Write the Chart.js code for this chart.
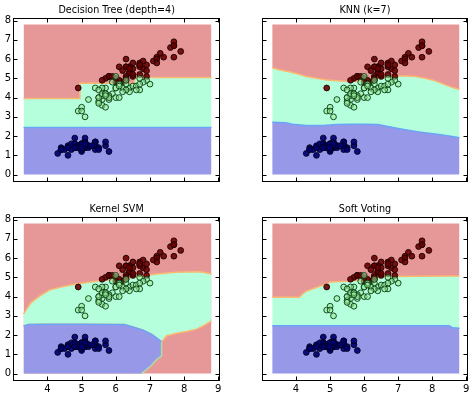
<!DOCTYPE html>
<html>
<head>
<meta charset="utf-8">
<script src="https://cdn.jsdelivr.net/npm/chart.js@4.4.1/dist/chart.umd.min.js"></script>
<style>
  body { margin: 0; background: #fff; width: 474px; height: 398px; overflow: hidden; position: relative; }
  canvas { position: absolute; }
</style>
</head>
<body>
<canvas id="tree" width="237" height="199" style="left:0;top:0"></canvas>
<canvas id="knn" width="237" height="199" style="left:237px;top:0"></canvas>
<canvas id="svm" width="237" height="199" style="left:0;top:199px"></canvas>
<canvas id="vote" width="237" height="199" style="left:237px;top:199px"></canvas>
<script>
// iris: sepal length (x) vs petal length (y)
const setosaX = [5.1,4.9,4.7,4.6,5.0,5.4,4.6,5.0,4.4,4.9,5.4,4.8,4.8,4.3,5.8,5.7,5.4,5.1,5.7,5.1,5.4,5.1,4.6,5.1,4.8,5.0,5.0,5.2,5.2,4.7,4.8,5.4,5.2,5.5,4.9,5.0,5.5,4.9,4.4,5.1,5.0,4.5,4.4,5.0,5.1,4.8,5.1,4.6,5.3,5.0];
const setosaY = [1.4,1.4,1.3,1.5,1.4,1.7,1.4,1.5,1.4,1.5,1.5,1.6,1.4,1.1,1.2,1.5,1.3,1.4,1.7,1.5,1.7,1.5,1.0,1.7,1.9,1.6,1.6,1.5,1.4,1.6,1.6,1.5,1.5,1.4,1.5,1.2,1.3,1.4,1.3,1.5,1.3,1.3,1.3,1.6,1.9,1.4,1.6,1.4,1.5,1.4];
const versicolorX = [7.0,6.4,6.9,5.5,6.5,5.7,6.3,4.9,6.6,5.2,5.0,5.9,6.0,6.1,5.6,6.7,5.6,5.8,6.2,5.6,5.9,6.1,6.3,6.1,6.4,6.6,6.8,6.7,6.0,5.7,5.5,5.5,5.8,6.0,5.4,6.0,6.7,6.3,5.6,5.5,5.5,6.1,5.8,5.0,5.6,5.7,5.7,6.2,5.1,5.7];
const versicolorY = [4.7,4.5,4.9,4.0,4.6,4.5,4.7,3.3,4.6,3.9,3.5,4.2,4.0,4.7,3.6,4.4,4.5,4.1,4.5,3.9,4.8,4.0,4.9,4.7,4.3,4.4,4.8,5.0,4.5,3.5,3.8,3.7,3.9,5.1,4.5,4.5,4.7,4.4,4.1,4.0,4.4,4.6,4.0,3.3,4.2,4.2,4.2,4.3,3.0,4.1];
const virginicaX = [6.3,5.8,7.1,6.3,6.5,7.6,4.9,7.3,6.7,7.2,6.5,6.4,6.8,5.7,5.8,6.4,6.5,7.7,7.7,6.0,6.9,5.6,7.7,6.3,6.7,7.2,6.2,6.1,6.4,7.2,7.4,7.9,6.4,6.3,6.1,7.7,6.3,6.4,6.0,6.9,6.7,6.9,5.8,6.8,6.7,6.7,6.3,6.5,6.2,5.9];
const virginicaY = [6.0,5.1,5.9,5.6,5.8,6.6,4.5,6.3,5.8,6.1,5.1,5.3,5.5,5.0,5.1,5.3,5.5,6.7,6.9,5.0,5.7,4.9,6.7,4.9,5.7,6.0,4.8,4.9,5.6,5.8,6.1,6.4,5.6,5.1,5.6,6.1,5.6,5.5,4.8,5.4,5.6,5.1,5.1,5.9,5.7,5.2,5.0,5.2,5.4,5.1];

const xTicks = [4, 5, 6, 7, 8, 9];
const yTicks = [0, 1, 2, 3, 4, 5, 6, 7, 8];
const meshTop = [[3.3, 7.8], [8.8, 7.8]];

// decision boundaries (x, y)
const treeLow = [[3.3, 2.45], [8.8, 2.45]];
const treeHigh = [[3.3, 3.95], [4.95, 3.95], [4.95, 4.75], [6.55, 4.75], [6.55, 5.05], [8.8, 5.05]];

const knnLow = [[3.3, 2.72], [3.7, 2.7], [3.9, 2.62], [4.3, 2.55], [4.8, 2.55], [5.2, 2.6], [5.6, 2.62], [6.0, 2.62],
  [6.4, 2.6], [6.7, 2.5], [7.0, 2.4], [7.3, 2.3], [7.6, 2.22], [7.9, 2.15], [8.2, 2.08], [8.5, 2.0], [8.8, 1.92]];
const knnHigh = [[3.3, 5.55], [3.5, 5.45], [3.8, 5.34], [4.0, 5.25], [4.3, 5.1], [4.6, 5.0], [4.9, 4.92], [5.2, 4.87],
  [5.5, 4.84], [5.8, 4.85], [6.0, 4.95], [6.3, 5.0], [6.6, 5.06], [6.9, 5.12], [7.2, 5.12], [7.5, 5.1], [7.75, 5.02],
  [8.0, 4.92], [8.15, 4.83], [8.4, 4.65], [8.6, 4.52], [8.8, 4.42]];

const svmBlueTop = [[3.3, 2.48], [3.45, 2.55], [4.0, 2.57], [5.0, 2.57], [6.0, 2.55], [6.25, 2.55], [6.5, 2.42],
  [6.8, 2.25], [7.04, 2.05], [7.23, 1.8], [7.34, 1.65]];
const svmBlueBottom = [[3.3, 0], [6.75, 0], [6.89, 0.2], [7.04, 0.42], [7.19, 0.72], [7.34, 0.92], [7.34, 1.65]];
const svmRedLow = [[7.34, 1.65], [7.49, 1.97], [7.78, 2.1], [8.07, 2.19], [8.36, 2.31], [8.56, 2.48], [8.8, 2.74]];
const svmHigh = [[3.3, 3.09], [3.39, 3.35], [3.53, 3.7], [3.78, 4.04], [4.07, 4.35], [4.46, 4.52], [4.85, 4.65],
  [5.53, 4.82], [6.12, 4.91], [6.7, 5.05], [7.19, 5.17], [7.78, 5.26], [8.46, 5.29], [8.8, 5.17]];

const voteLow = [[3.3, 2.48], [8.5, 2.48], [8.6, 2.38], [8.8, 2.35]];
const voteHigh = [[3.3, 3.97], [4.1, 3.97], [4.17, 4.1], [4.3, 4.28], [4.45, 4.38], [4.6, 4.47], [4.75, 4.57],
  [4.9, 4.65], [5.0, 4.76], [5.5, 4.8], [6.0, 4.88], [6.3, 4.92], [6.45, 5.0], [6.55, 5.05], [8.8, 5.07]];

const RED = 'rgb(230,152,152)', MINT = 'rgb(182,255,221)', BLUE = 'rgb(152,152,232)';
const ORANGE = 'rgb(250,185,115)', SKY = 'rgb(105,165,245)', LIME = 'rgb(170,225,160)';

Chart.defaults.font.family = "'DejaVu Sans', sans-serif";
Chart.defaults.color = '#000';

const pts = arr => arr.map(([x, y]) => ({ x, y }));
const zip = (xs, ys) => xs.map((x, i) => ({ x, y: ys[i] }));

function scatter(xs, ys, fill, line) {
  return { data: zip(xs, ys), showLine: false, pointRadius: 2.9, pointHoverRadius: 2.9,
    backgroundColor: fill, borderColor: line, pointBorderWidth: 1, order: 0 };
}
function edge(arr, fill, bg, line, order) {
  return { data: pts(arr), showLine: true, pointRadius: 0, fill: fill, backgroundColor: bg,
    borderColor: line || 'rgba(0,0,0,0)', borderWidth: line ? 1.5 : 0, order: order };
}
const points = () => [
  scatter(setosaX, setosaY, 'rgba(0,0,115,0.92)', 'rgba(0,0,30,0.9)'),
  scatter(versicolorX, versicolorY, 'rgba(150,235,150,0.55)', 'rgba(10,60,20,0.9)'),
  scatter(virginicaX, virginicaY, 'rgba(105,0,0,0.9)', 'rgba(30,0,0,0.9)')
];
function layered(low, high) {
  return [...points(),
    edge(low, 'origin', BLUE, SKY, 1),   // 3
    edge(high, 3, MINT, ORANGE, 2),      // 4
    edge(meshTop, 4, RED, null, 3)       // 5
  ];
}

const frame = {
  id: 'frame',
  afterDatasetsDraw(chart) {
    const { ctx, chartArea: a, scales: { x, y } } = chart;
    const l = Math.round(a.left) + 0.5, r = Math.round(a.right) - 0.5;
    const t = Math.round(a.top) + 0.5, b = Math.round(a.bottom) - 0.5;
    ctx.save();
    ctx.strokeStyle = '#000';
    ctx.lineWidth = 1;
    ctx.beginPath();
    xTicks.forEach(v => {
      const p = Math.round(x.getPixelForValue(v)) + 0.5;
      ctx.moveTo(p, b); ctx.lineTo(p, b - 4);
      ctx.moveTo(p, t); ctx.lineTo(p, t + 4);
    });
    yTicks.forEach(v => {
      const p = Math.round(y.getPixelForValue(v)) + 0.5;
      ctx.moveTo(l, p); ctx.lineTo(l + 4, p);
      ctx.moveTo(r, p); ctx.lineTo(r - 4, p);
    });
    ctx.stroke();
    ctx.strokeRect(l, t, r - l, b - t);
    ctx.restore();
  }
};

function makeChart(id, title, datasets, showX, showY) {
  const right = showY ? 17 : 6;
  const yWidth = showY ? 13.3 : 25;
  new Chart(document.getElementById(id), {
    type: 'line',
    data: { datasets },
    options: {
      responsive: false,
      animation: false,
      events: [],
      layout: { padding: { left: 0, right: right, top: 0, bottom: 0 } },
      plugins: {
        legend: { display: false },
        tooltip: { enabled: false },
        title: { display: true, text: title, fullSize: false, color: '#000',
          font: { size: 9.6, weight: 'normal' }, padding: { top: 4.3, bottom: 1.9 } }
      },
      scales: {
        x: {
          type: 'linear', min: 3.0, max: 9.05,
          afterBuildTicks: s => { s.ticks = xTicks.map(v => ({ value: v })); },
          afterFit: s => { s.height = 16.7; },
          grid: { display: false, drawTicks: false }, border: { display: false },
          ticks: { display: showX, padding: 2.5, font: { size: 10 }, color: '#000', maxRotation: 0 }
        },
        y: {
          type: 'linear', min: -0.4, max: 8.15,
          afterBuildTicks: s => { s.ticks = yTicks.map(v => ({ value: v })); },
          afterFit: s => { s.width = yWidth; },
          grid: { display: false, drawTicks: false }, border: { display: false },
          ticks: { display: showY, padding: 2.3, font: { size: 10 }, color: '#000' }
        }
      }
    },
    plugins: [frame]
  });
}

makeChart('tree', 'Decision Tree (depth=4)', layered(treeLow, treeHigh), false, true);
makeChart('knn', 'KNN (k=7)', layered(knnLow, knnHigh), false, false);
makeChart('svm', 'Kernel SVM', [...points(),
  edge(svmBlueBottom.slice(1), false, null, LIME, 1), // 3: blue / red edge
  edge(svmBlueTop, 5, BLUE, SKY, 2),                  // 4
  edge(svmBlueBottom, false, null, null, 3),          // 5
  edge(svmBlueTop.concat(svmRedLow.slice(1)), false, null, ORANGE, 4), // 6
  edge(svmHigh, 6, MINT, ORANGE, 5),                  // 7
  edge(meshTop, 'origin', RED, null, 6)               // 8
], true, true);
makeChart('vote', 'Soft Voting', layered(voteLow, voteHigh), true, false);
</script>
</body>
</html>
